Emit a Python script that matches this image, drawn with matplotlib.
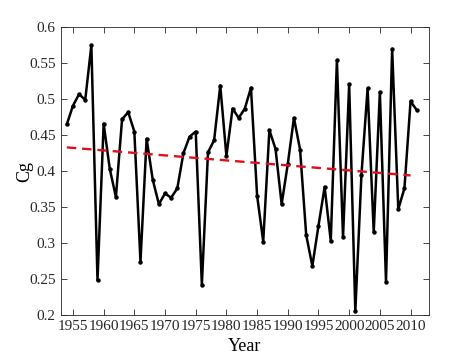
import matplotlib.pyplot as plt
import numpy as np

plt.rcParams['font.family'] = ['Liberation Serif', 'DejaVu Serif']

years = np.arange(1954, 2012)
cg = [0.465, 0.491, 0.507, 0.499, 0.575, 0.248, 0.466, 0.403, 0.364, 0.472,
      0.482, 0.455, 0.274, 0.445, 0.388, 0.354, 0.369, 0.363, 0.376, 0.425,
      0.448, 0.455, 0.242, 0.426, 0.443, 0.519, 0.421, 0.487, 0.474, 0.487,
      0.516, 0.366, 0.302, 0.457, 0.431, 0.354, 0.410, 0.474, 0.430, 0.311,
      0.268, 0.324, 0.378, 0.303, 0.554, 0.308, 0.521, 0.205, 0.395, 0.515,
      0.315, 0.510, 0.246, 0.570, 0.347, 0.376, 0.497, 0.485]

trend_years = [1954, 2010]
trend_vals = [0.433, 0.394]

xticks = np.arange(1955, 2011, 5)
yticks = [0.2, 0.25, 0.3, 0.35, 0.4, 0.45, 0.5, 0.55, 0.6]
ytick_labels = ['0.2', '0.25', '0.3', '0.35', '0.4', '0.45', '0.5', '0.55', '0.6']

fig = plt.figure(figsize=(4.74, 3.55), dpi=100)
ax = fig.add_axes([0.128, 0.113, 0.777, 0.81])

ax.plot(years, cg, color='black', lw=1.8, marker='o', ms=2.2)
ax.plot(trend_years, trend_vals, color='#e0101a', lw=1.7, ls=(0, (4, 2.5)))

ax.set_xlim(1953, 2013)
ax.set_ylim(0.2, 0.6)
ax.set_xticks(xticks)
ax.set_yticks(yticks)
ax.set_yticklabels(ytick_labels)
ax.tick_params(direction='in', top=True, right=True, labelsize=11,
               colors='#262626', length=4, width=0.6)
for s in ax.spines.values():
    s.set_color('#262626')
    s.set_linewidth(0.6)

ax.set_xlabel('Year', fontsize=13, labelpad=4)
ax.set_ylabel('Cg', fontsize=13, labelpad=-3)

fig.savefig('out.png', dpi=100)
